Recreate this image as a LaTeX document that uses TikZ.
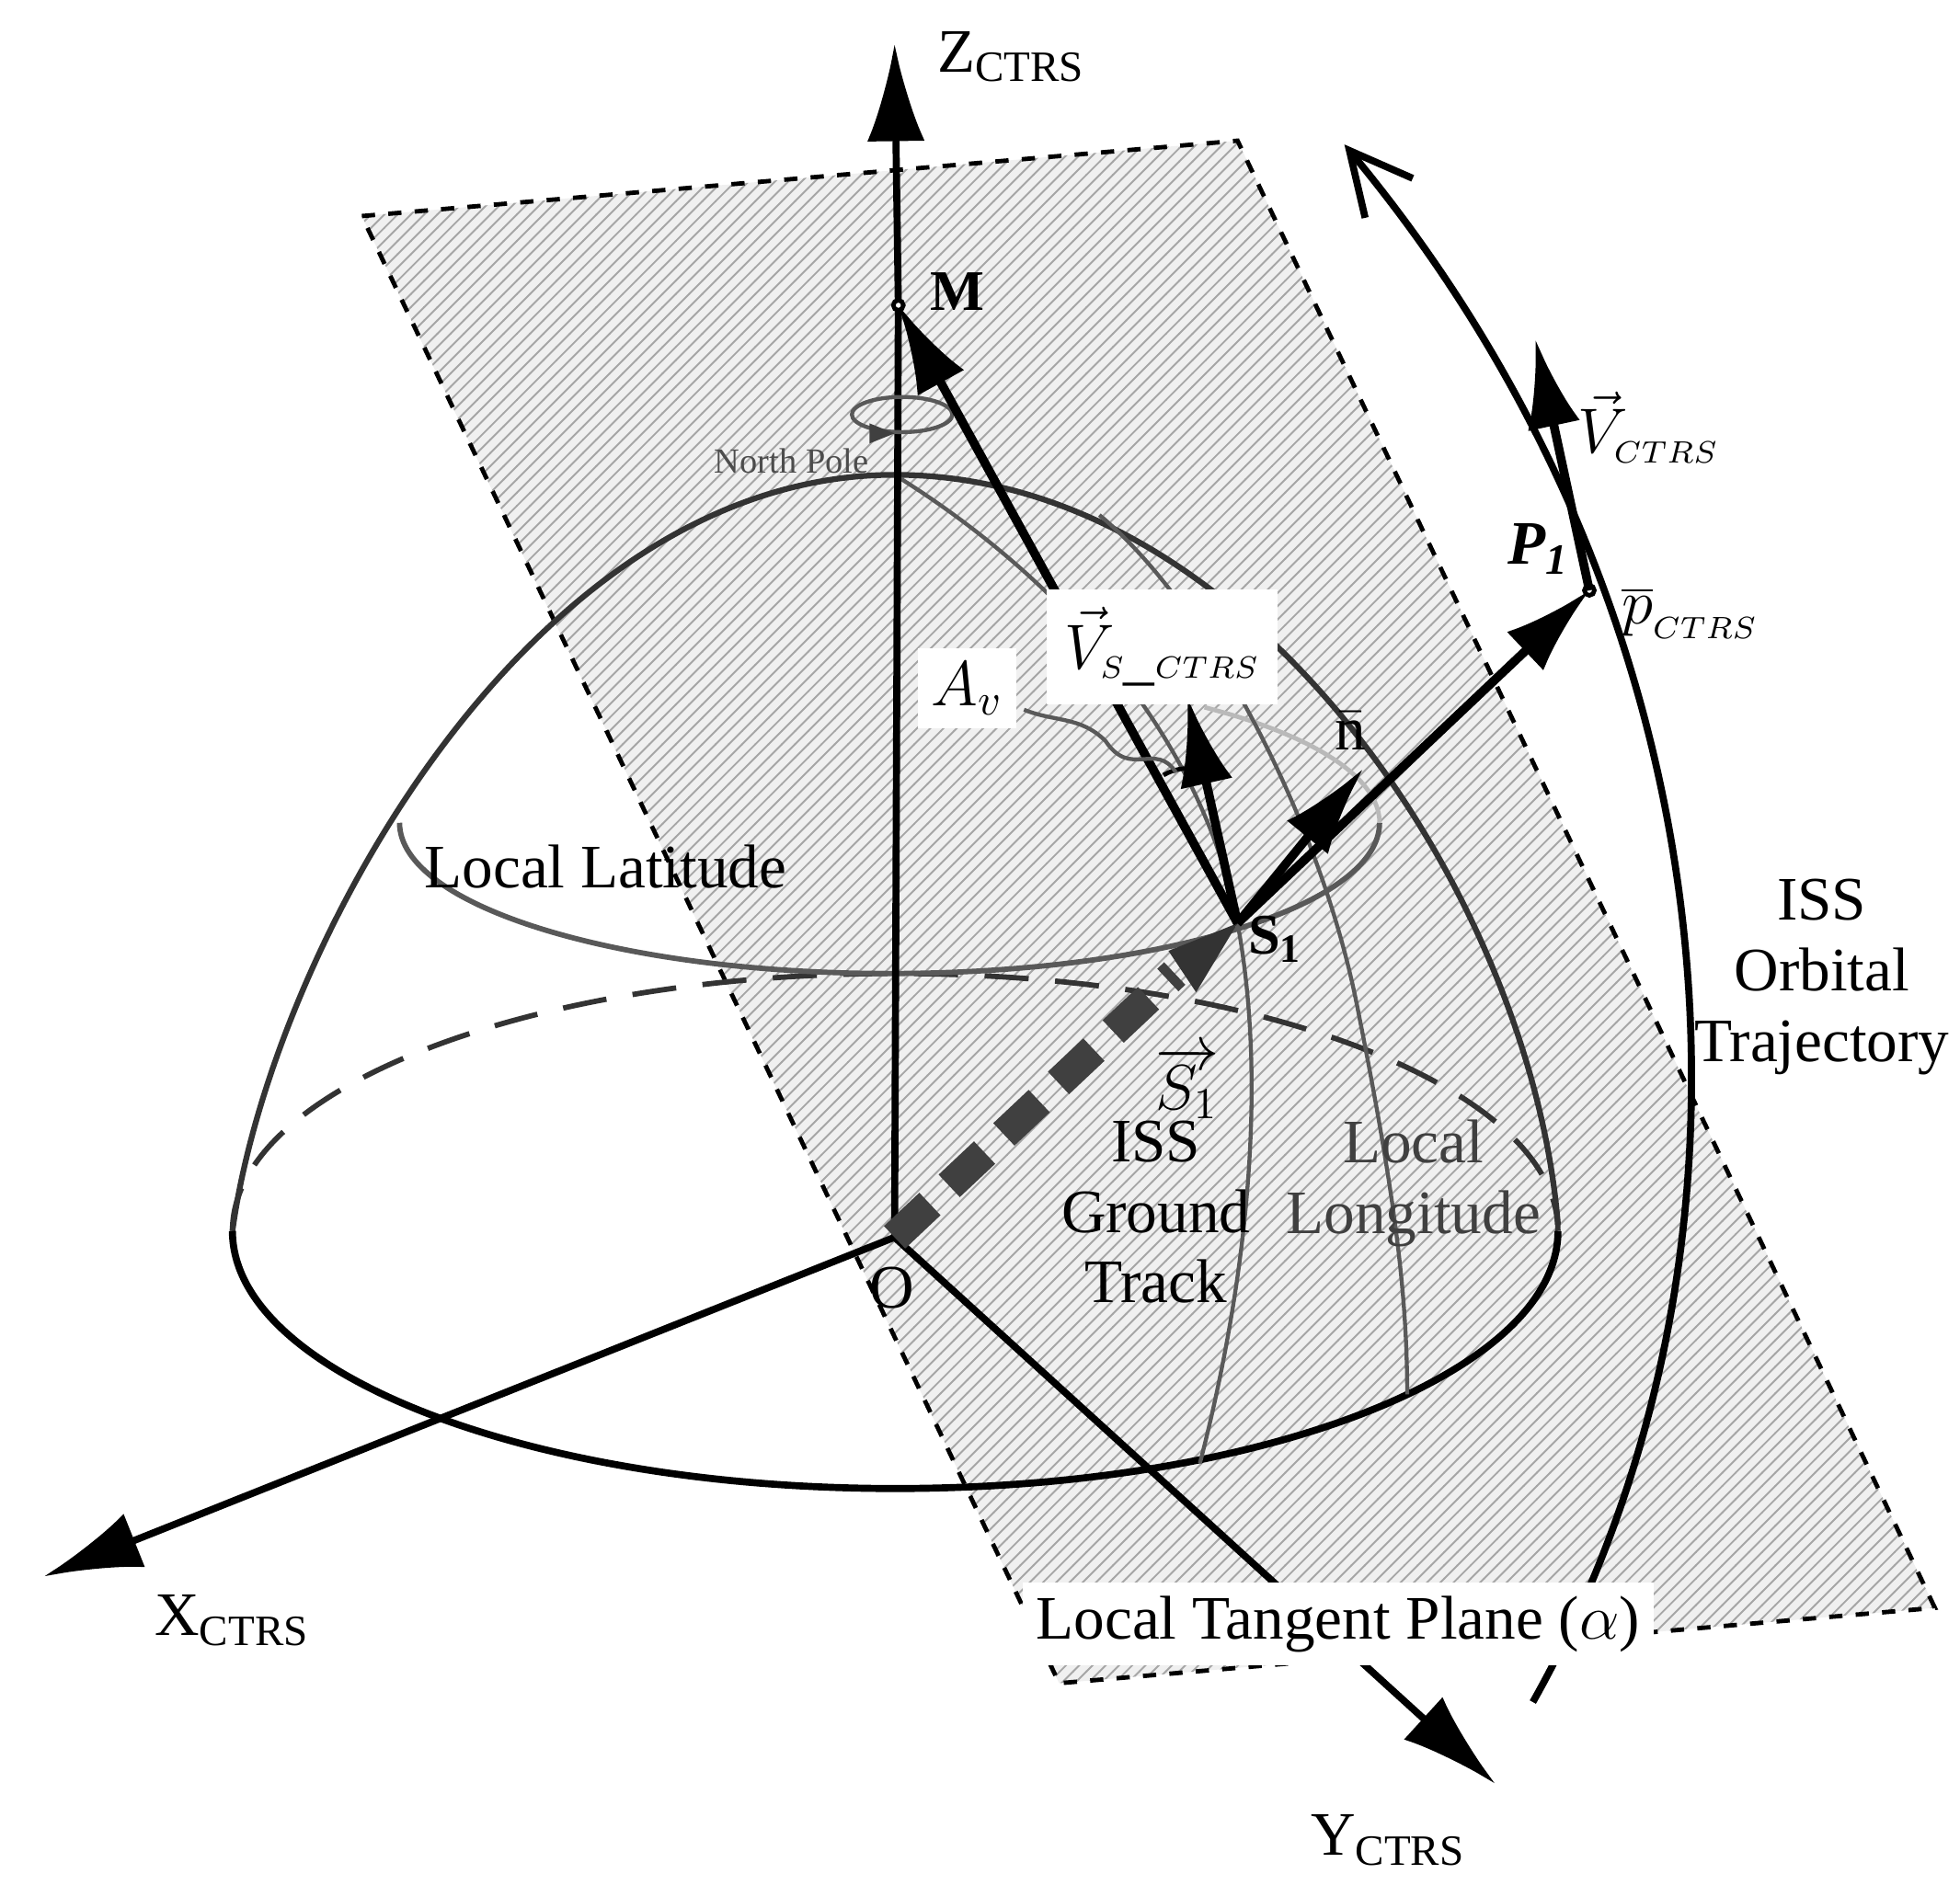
\documentclass[tikz,border=0pt]{standalone}
\usepackage{fontspec}
\setmainfont{Liberation Serif}
\usetikzlibrary{patterns,arrows.meta}
\tikzset{
 ax/.style={line width=1.6pt,-{Latex[length=22pt,width=13pt]}},
 vec/.style={line width=2pt,-{Latex[length=20pt,width=12pt]}},
 thin/.style={line width=0.9pt,gray!70!black},
 lbl/.style={font=\fontsize{14}{16}\selectfont},
 wb/.style={fill=white,inner sep=3pt},
}
\begin{document}
\begin{tikzpicture}[x=0.1mm,y=-0.1mm]
\useasboundingbox (0,0) rectangle (1560,1510);
% plane
\coordinate (A) at (288,172); \coordinate (B) at (985,112);
\coordinate (C) at (1540,1280); \coordinate (D) at (843,1340);
\fill[gray!12] (A)--(B)--(C)--(D)--cycle;
\fill[pattern=north east lines,pattern color=gray!70] (A)--(B)--(C)--(D)--cycle;
\draw[dashed,line width=1pt] (A)--(B)--(C)--(D)--cycle;
% points
\coordinate (O) at (712,985);
\coordinate (S) at (985,735);
\coordinate (M) at (715,243);
\coordinate (P) at (1265,470);
\coordinate (NP) at (712,378);
% hemisphere
\draw[line width=1.3pt,gray!40!black] (185,980) .. controls (215,760) and (420,378) .. (NP) .. controls (1000,378) and (1220,720) .. (1240,975);
\draw[line width=1.2pt,dashed,gray!40!black,dash pattern=on 10pt off 6pt] (185,980) arc[start angle=180,end angle=360,x radius=527.5,y radius=205];
\draw[line width=1.6pt] (185,980) arc[start angle=180,end angle=0,x radius=527.5,y radius=205];
% latitude
\draw[thin,line width=1.2pt] (318,655) arc[start angle=180,end angle=0,x radius=390,y radius=120];
\draw[gray!55,line width=1pt] (1098,655) arc[start angle=0,end angle=-50,x radius=390,y radius=120];
% meridians
\draw[thin] (NP) .. controls (860,470) and (960,600) .. (S) .. controls (1010,870) and (990,1030) .. (955,1165);
\draw[thin] (875,410) .. controls (960,480) and (1050,650) .. (1080,800) .. controls (1110,950) and (1120,1030) .. (1120,1110);
% axes
\draw[line width=1.6pt] (O)--(M);
\draw[ax] (M)--(712,35);
\node[lbl] (zl) at (805,45) {Z\textsubscript{CTRS}};
\draw[ax] (O)--(35,1255);
\node[lbl] (xl) at (185,1290) {X\textsubscript{CTRS}};
\draw[ax] (O)--(1190,1420);
\node[lbl] (yl) at (1105,1465) {Y\textsubscript{CTRS}};
\draw[line width=7pt,gray!50!black,dash pattern=on 11pt off 6pt] (O)--(935,775);
\fill[gray!40!black] (S)--(930,757)--(952,790)--cycle;
% north pole
\draw[thin] (718,330) ellipse[x radius=40,y radius=14];
\fill[gray!50!black] (712,345)--++(-20,-8)--++(0,16)--cycle;
\node[font=\fontsize{8}{9}\selectfont,text=gray!60!black] (npl) at (630,367) {North Pole};
% vectors
\draw[vec] (S)--(M);
\draw[vec] (S)--(P);
\draw[vec] (S)--(945,555);
\draw[vec] (S)--(1085,612);
\draw[line width=1pt,fill=white] (M) circle (4);
\draw[line width=1pt,fill=white] (P) circle (4);
\node[font=\fontsize{13}{15}\selectfont\bfseries] (ml) at (762,232) {M};
% Av
\draw[line width=1pt] (926,617) .. controls (935,612) and (943,611) .. (952,612);
\draw[thin] (936,615) .. controls (920,590) and (900,620) .. (880,590) .. controls (860,570) and (840,575) .. (815,565);
\node[lbl,wb] (av) at (770,548) {$A_v$};
\node[lbl,wb,inner sep=4pt] (vs) at (925,515) {$\vec V_{\scriptscriptstyle S\_CTRS}$};
\node[lbl] (nl) at (1075,582) {$\bar{\mathrm n}$};
\node[font=\fontsize{13}{15}\selectfont\bfseries] (sl) at (1015,748) {S\textsubscript{1}};
\node[lbl] (s1v) at (945,862) {$\overrightarrow{S_1}$};
% orbit
\draw[line width=1.6pt,-{Straight Barb[length=14pt,width=14pt]}] (1220,1355) .. controls (1420,1000) and (1390,500) .. (1070,115);
\draw[vec] (P)--(1222,270);
\node[lbl] (vl) at (1312,340) {$\vec V_{\scriptscriptstyle CTRS}$};
\node[lbl] (pl) at (1225,437) {\bfseries\itshape P\textsubscript{1}};
\node[lbl] (pv) at (1345,488) {$\overline{p}_{\scriptscriptstyle CTRS}$};
% texts
\node[lbl] (lat) at (482,690) {Local Latitude};
\node[lbl,align=center] (gt) at (920,965) {ISS\\Ground\\Track};
\node[lbl,align=center,text=gray!50!black] (lon) at (1125,942) {Local\\Longitude};
\node[lbl,align=center] (ot) at (1450,778) {ISS\\Orbital\\Trajectory};
\node[lbl] (ol) at (710,1025) {O};
\node[lbl,wb] (ltp) at (1065,1293) {Local Tangent Plane ($\alpha$)};
\end{tikzpicture}
\end{document}
